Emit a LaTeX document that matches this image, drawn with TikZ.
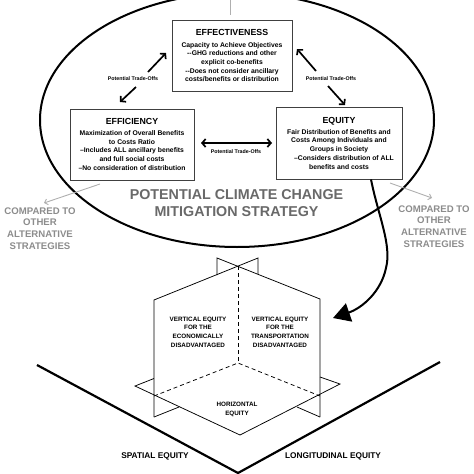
\documentclass[tikz,border=0pt]{standalone}
\usepackage{fontspec}
\setmainfont{Liberation Sans}
\usetikzlibrary{arrows.meta}
\definecolor{titlegray}{RGB}{105,105,105}
\definecolor{cmpgray}{RGB}{140,140,140}
\definecolor{arrgray}{RGB}{175,175,175}
\begin{document}
\begin{tikzpicture}[x=1pt,y=-1pt,
  box/.style={draw=black!75, line width=0.8pt, align=center, inner sep=0pt,
    font=\bfseries\fontsize{6.8}{8.7}\selectfont},
  boxtitle/.style={font=\bfseries\fontsize{8.6}{10}\selectfont},
  trade/.style={line width=1.7pt, -{Straight Barb[length=3.5pt,width=8pt]}},
  tlabel/.style={font=\bfseries\fontsize{5.3}{6}\selectfont, inner sep=0pt},
  cmp/.style={text=cmpgray, align=center, inner sep=0pt, font=\bfseries\fontsize{9.6}{11.7}\selectfont},
  cmparrow/.style={draw=arrgray, line width=0.9pt, -{Straight Barb[length=3pt,width=6pt]}},
  thin/.style={line width=0.75pt},
  hid/.style={line width=0.75pt, dash pattern=on 4pt off 3pt},
  face/.style={align=center, inner sep=0pt, font=\bfseries\fontsize{6.3}{8.7}\selectfont},
  axislab/.style={inner sep=0pt, font=\bfseries\fontsize{8.3}{10}\selectfont},
]
\useasboundingbox (0,0) rectangle (474,474);
\clip (0,0) rectangle (474,474);

% gray stub at top
\coordinate (gtop1) at (230,0);
\coordinate (gtop2) at (230,15);
\draw[arrgray, line width=0.9pt] (gtop1) -- (gtop2);

% ellipse
\draw[line width=2pt] (237,120) ellipse [x radius=197pt, y radius=127pt];

% boxes
\node[box, minimum width=120pt, minimum height=71pt] (eff) at (232,55.5)
 {{\fontsize{8.8}{10}\selectfont EFFECTIVENESS}\\[3.2pt]
  Capacity to Achieve Objectives\\
  -{}-GHG reductions and other\\
  explicit co-benefits\\
  -{}-Does not consider ancillary\\
  costs/benefits or distribution};

\node[box, minimum width=124pt, minimum height=71pt] (effi) at (132,144.5)
 {{\fontsize{8.8}{10}\selectfont EFFICIENCY}\\[2.2pt]
  Maximization of Overall Benefits\\
  to Costs Ratio\\
  –Includes ALL ancillary benefits\\
  and full social costs\\
  –No consideration of distribution};

\node[box, minimum width=126pt, minimum height=72pt] (equ) at (339,143)
 {{\fontsize{8.8}{10}\selectfont EQUITY}\\[2.5pt]
  Fair Distribution of Benefits and\\
  Costs Among Individuals and\\
  Groups in Society\\
  \hspace*{10pt}–Considers distribution of ALL\\
  benefits and costs};

% trade-off arrows
\node[tlabel] (tl) at (133,79) {Potential Trade-Offs};
\node[tlabel] (tr) at (331,79) {Potential Trade-Offs};
\node[tlabel] (tm) at (236,152) {Potential Trade-Offs};
\coordinate (l1s) at (148,72); \coordinate (l1e) at (166,53);
\coordinate (l2s) at (136,87); \coordinate (l2e) at (120,102);
\coordinate (r1s) at (316,71); \coordinate (r1e) at (297,49);
\coordinate (r2s) at (328,86); \coordinate (r2e) at (345,105);
\draw[trade] (l1s) -- (l1e);
\draw[trade] (l2s) -- (l2e);
\draw[trade] (r1s) -- (r1e);
\draw[trade] (r2s) -- (r2e);
\coordinate (hs) at (201,143); \coordinate (he) at (272,143);
\draw[trade, {Straight Barb[length=3.5pt,width=8pt]}-{Straight Barb[length=3.5pt,width=8pt]}] (hs) -- (he);

% title
\node[text=titlegray, align=center, inner sep=0pt, font=\bfseries\fontsize{14.3}{17}\selectfont] (title) at (236.5,203.5)
 {POTENTIAL CLIMATE CHANGE\\MITIGATION STRATEGY};

% compared to
\node[cmp] (cl) at (40,228.5) {COMPARED TO\\OTHER\\ALTERNATIVE\\STRATEGIES};
\node[cmp] (cr) at (434,226.5) {COMPARED TO\\OTHER\\ALTERNATIVE\\STRATEGIES};
\coordinate (gl1) at (100,184); \coordinate (gl2) at (44,203);
\coordinate (gr1) at (390,183); \coordinate (gr2) at (432,198);
\draw[cmparrow] (gl1) -- (gl2);
\draw[cmparrow] (gr1) -- (gr2);

% curved arrow to cube
\coordinate (cubetip) at (333,318);
\draw[line width=2pt, -{Triangle[length=17pt,width=19pt]}]
  ([xshift=32pt]equ.south) .. controls (378,215) and (392,245) .. (386,268)
  .. controls (381,292) and (362,308) .. (cubetip);

% cube: vertical walls
\coordinate (A1) at (154,300); \coordinate (A2) at (258,258);
\coordinate (A3) at (154,417); \coordinate (A4) at (258,274);
\coordinate (A5) at (179,407);
\coordinate (B1) at (320,299); \coordinate (B2) at (217,258);
\coordinate (B3) at (320,417); \coordinate (B4) at (217,275);
\coordinate (B5) at (297,407);
\coordinate (O1) at (238,266.3); \coordinate (O2) at (238,363);
\draw[thin] (A3) -- (A1) -- (A2) -- (A4);
\draw[thin] (A3) -- (A5);
\draw[thin] (B3) -- (B1) -- (B2) -- (B4);
\draw[thin] (B3) -- (B5);
\draw[hid] (O1) -- (O2);
% floor
\coordinate (FL) at (135,386); \coordinate (FF) at (240,435);
\coordinate (FR) at (340,384);
\coordinate (FLb) at (154,378.5); \coordinate (FRb) at (320,377);
\coordinate (DL) at (154,396); \coordinate (DR) at (320,396);
\draw[thin] (FLb) -- (FL) -- (FF) -- (FR) -- (FRb);
\draw[hid] (DL) -- (O2) -- (DR);

\node[face] (vl) at (198,332) {VERTICAL EQUITY\\FOR THE\\ECONOMICALLY\\DISADVANTAGED};
\node[face] (vr) at (280,332) {VERTICAL EQUITY\\FOR THE\\TRANSPORTATION\\DISADVANTAGED};
\node[face] (hz) at (237,409.5) {HORIZONTAL\\EQUITY};

% V axes
\coordinate (Vl) at (37,365); \coordinate (Vb) at (238,473); \coordinate (Vr) at (440,362);
\draw[line width=2.2pt] (Vl) -- (Vb) -- (Vr);
\node[axislab] (sp) at (155,456) {SPATIAL EQUITY};
\node[axislab] (lo) at (333,456) {LONGITUDINAL EQUITY};
\end{tikzpicture}
\end{document}
